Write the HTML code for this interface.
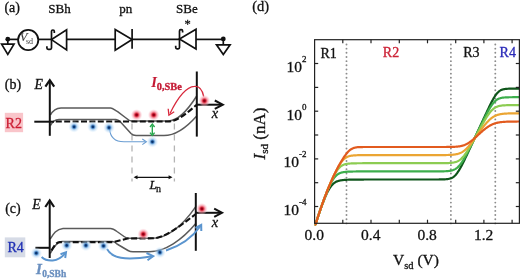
<!DOCTYPE html>
<html><head><meta charset="utf-8">
<style>
html,body{margin:0;padding:0;background:#fff;}
body{width:520px;height:279px;overflow:hidden;}
svg{display:block;}
text{font-family:"Liberation Serif","Times New Roman",serif;fill:#111;stroke:#111;stroke-width:0.3px;}
</style></head><body>
<svg width="520" height="279" viewBox="0 0 520 279">
<defs>
<radialGradient id="gr" cx="0.5" cy="0.5" r="0.5">
<stop offset="0" stop-color="#7a0010"/>
<stop offset="0.16" stop-color="#a00018"/>
<stop offset="0.32" stop-color="#dc2c40" stop-opacity="0.92"/>
<stop offset="0.52" stop-color="#f27888" stop-opacity="0.7"/>
<stop offset="0.76" stop-color="#f8b0bc" stop-opacity="0.42"/>
<stop offset="1" stop-color="#ffe0e4" stop-opacity="0"/>
</radialGradient>
<radialGradient id="gb" cx="0.5" cy="0.5" r="0.5">
<stop offset="0" stop-color="#082a5c"/>
<stop offset="0.15" stop-color="#0c3a78"/>
<stop offset="0.3" stop-color="#3a7cc0" stop-opacity="0.85"/>
<stop offset="0.5" stop-color="#90c0ec" stop-opacity="0.58"/>
<stop offset="0.76" stop-color="#c4e0f8" stop-opacity="0.36"/>
<stop offset="1" stop-color="#e8f4ff" stop-opacity="0"/>
</radialGradient>
</defs>

<!-- ============ panel (a) ============ -->
<g font-size="13">
<text x="4.4" y="12.2" font-size="14">(a)</text>
<text x="48.3" y="12.6">SBh</text>
<text x="119.2" y="12.7">pn</text>
<text x="176" y="12.7">SBe</text>
<text x="187.6" y="28.2" font-size="12.5" text-anchor="middle">*</text>
</g>
<g stroke="#111" stroke-width="1.7" fill="none">
<!-- wires -->
<line x1="7.8" y1="39.4" x2="18" y2="39.4"/>
<line x1="38.4" y1="39.4" x2="51.5" y2="39.4"/>
<line x1="66.6" y1="39.4" x2="115.2" y2="39.4"/>
<line x1="132.1" y1="39.4" x2="179.5" y2="39.4"/>
<line x1="196" y1="39.4" x2="223.3" y2="39.4"/>
<!-- left ground -->
<line x1="7.8" y1="39.4" x2="7.8" y2="44.2"/>
<path d="M1.6,44.2 L14,44.2 L7.8,54.4 Z" stroke-linejoin="miter"/>
<!-- right ground -->
<line x1="223.3" y1="39.4" x2="223.3" y2="44.8"/>
<path d="M216.5,44.8 L230.1,44.8 L223.3,54.6 Z"/>
<!-- source circle -->
<circle cx="28.2" cy="40" r="10.1" stroke-width="1.8"/>
<!-- SBh -->
<path d="M66.6,29.8 L66.6,49.9 L51.5,39.6 Z"/>
<path d="M54.3,33 L54.3,31.3 Q54.3,30 53,30 L52.8,30 Q51.5,30 51.5,31.3 L51.5,48 Q51.5,49.3 50.2,49.3 L48.2,49.3 Q46.9,49.3 46.9,48 L46.9,46.3"/>
<!-- pn -->
<path d="M115.2,29.5 L115.2,50.1 L132.1,39.5 Z"/>
<line x1="132.1" y1="29" x2="132.1" y2="48.8"/>
<!-- SBe -->
<path d="M196,29.2 L196,48.9 L179.5,39 Z"/>
<path d="M182.6,32.6 L182.6,30.9 Q182.6,29.6 181.3,29.6 L180.8,29.6 Q179.5,29.6 179.5,30.9 L179.5,47.5 Q179.5,48.8 178.2,48.8 L177,48.8 Q175.7,48.8 175.7,47.5 L175.7,45.8"/>
</g>
<circle cx="7.8" cy="39.2" r="2.4" fill="#111"/>
<circle cx="223.3" cy="38.9" r="2.4" fill="#111"/>
<text x="19.8" y="40.6" font-size="12.5" font-style="italic" style="fill:#3a3a3a;stroke:#3a3a3a;stroke-width:0.15px">V</text>
<text x="25.9" y="43.6" font-size="8" style="fill:#444;stroke:none">sd</text>

<!-- ============ panel (b) ============ -->
<text x="4.8" y="88.9" font-size="14">(b)</text>
<text x="34.4" y="88.6" font-size="13.8" font-style="italic">E</text>
<rect x="4.8" y="112.8" width="18.3" height="19.4" fill="#f9c5ca"/>
<text x="5.6" y="128.2" font-size="14" style="fill:#cc1e34;stroke:#cc1e34">R2</text>

<!-- gray dashed verticals & Ln -->
<g stroke="#b4b4b4" stroke-width="1.3" stroke-dasharray="6,5" fill="none">
<line x1="132" y1="123.4" x2="132" y2="181.5"/>
<line x1="174.4" y1="123.4" x2="174.4" y2="181.5"/>
</g>
<line x1="135" y1="177.3" x2="171" y2="177.3" stroke="#111" stroke-width="1.3"/>
<path d="M133.6,177.3 L137.5,175.3 L137.5,179.3 Z M172.5,177.3 L168.6,175.3 L168.6,179.3 Z" fill="#111"/>
<text x="149.6" y="188.8" font-size="13" font-style="italic">L</text>
<text x="156" y="192" font-size="10">n</text>

<!-- bands -->
<g stroke="#5a5a5a" stroke-width="1.5" fill="none" stroke-linejoin="round">
<path d="M50.5,115 C52.5,111 55.5,108 61,107.9 L110.5,107.9 C113,108 114.5,110 117.6,111.6 L126,118 C128,120 129,121 132,121 L168,121 C176,121 186,113 196.7,96"/>
<path d="M50.5,125.5 C52,122 54.5,119.5 59,119.4 L116,119.5 C117.5,119.5 119,120.5 120.5,122 L131,133.5 C132,134.5 133.5,135.5 136,135.6 L164,135.6 C175,135.6 187,127 196.7,116"/>
</g>
<path d="M55.8,121.5 L168,121.5 C178,121.5 188,112 196.7,104.8" stroke="#111" stroke-width="2.1" fill="none" stroke-dasharray="6,2.4"/>
<!-- axes -->
<g stroke="#111" stroke-width="2" fill="none">
<line x1="49.8" y1="81" x2="49.8" y2="135.8"/>
<path d="M45.4,86.6 L49.8,80.2 L54.2,86.6" stroke-width="2.2"/>
<line x1="34.3" y1="121.7" x2="54" y2="121.7"/>
<line x1="196.8" y1="71.5" x2="196.8" y2="136.6"/>
<line x1="196.8" y1="104.7" x2="221.5" y2="104.7"/>
<path d="M214.8,100.5 L222.8,104.7 L214.8,108.9"/>
</g>
<text x="211.8" y="118.4" font-size="14.5" font-style="italic">x</text>
<!-- green double arrow -->
<g stroke="#27a84e" stroke-width="1.4" fill="none">
<line x1="152.3" y1="125.5" x2="152.3" y2="134"/>
<path d="M150,127 L152.3,124.2 L154.6,127 M150,132.6 L152.3,135.4 L154.6,132.6"/>
</g>
<!-- blue arrow (b) -->
<path d="M109.6,128.5 C110,136 113,141.8 124,141.8 L145.5,141.8" stroke="#6a9dd2" stroke-width="1.1" fill="none"/>
<path d="M142.3,139 L146.4,141.8 L142.3,144.6" stroke="#6a9dd2" stroke-width="1.1" fill="none"/>
<!-- red arc -->
<path d="M203.7,96.5 C202,88 198,86 194.5,86.4 C186,87 178,97 170,113.5" stroke="#d8283c" stroke-width="1.3" fill="none"/>
<path d="M168.2,108.8 L168.9,115.2 L174.2,111.8" stroke="#d8283c" stroke-width="1.3" fill="none"/>
<text x="151.3" y="86.8" font-size="14.5" font-weight="bold" font-style="italic" style="fill:#c41a34;stroke:#c41a34;stroke-width:0.1px">I</text>
<text x="156.8" y="89.8" font-size="10.4" font-weight="bold" style="fill:#c41a34;stroke:#c41a34">0,SBe</text>
<!-- dots (b) -->
<circle cx="136.6" cy="114.9" r="6" fill="url(#gr)"/>
<circle cx="153.7" cy="114.9" r="6" fill="url(#gr)"/>
<circle cx="204.4" cy="100.8" r="6" fill="url(#gr)"/>
<circle cx="74.1" cy="126.8" r="6" fill="url(#gb)"/>
<circle cx="92.9" cy="126.8" r="6" fill="url(#gb)"/>
<circle cx="109" cy="127.6" r="6" fill="url(#gb)"/>
<circle cx="152.4" cy="141.8" r="6" fill="url(#gb)"/>

<!-- ============ panel (c) ============ -->
<text x="5.2" y="212.6" font-size="14">(c)</text>
<text x="32.2" y="208.6" font-size="13.8" font-style="italic">E</text>
<rect x="4.8" y="237.4" width="20.5" height="19.9" fill="#d6dbe6"/>
<text x="7.4" y="252.4" font-size="14" style="fill:#1f2fb4;stroke:#1f2fb4">R4</text>
<g stroke="#5a5a5a" stroke-width="1.5" fill="none" stroke-linejoin="round">
<path d="M50.3,239 C53,234.5 56,229 63,228.4 L110.5,228.5 C113,228.5 115,230 117,231.5 L124,236.5 C125.5,237.6 127,238.3 129,238.3 L152,238.3 C168,238.3 183,225 195.8,206.6"/>
<path d="M50.3,253.5 C53,248 56.5,241.6 62,241.4 L112.5,241.5 C114,241.5 115.5,242.5 117,244 L128,250.5 C129.5,251.4 131,251.8 133,251.8 L149,251.8 C165,251.8 182,240 195.8,223.5"/>
</g>
<path d="M51.5,250.5 C54,246 56,242.3 60,242.1 L113,242.1 L127.5,238.5 L153,238.3 C165,238 180,226 195.8,214" stroke="#111" stroke-width="2.1" fill="none" stroke-dasharray="6,2.4"/>
<g stroke="#111" stroke-width="2" fill="none">
<line x1="49.7" y1="201" x2="49.7" y2="258"/>
<path d="M45.3,207 L49.7,200.4 L54.1,207" stroke-width="2.2"/>
<line x1="35.4" y1="247.8" x2="50" y2="247.8"/>
<line x1="195.8" y1="193" x2="195.8" y2="250.8"/>
<line x1="195.8" y1="212.8" x2="221" y2="212.8"/>
<path d="M214.2,208.7 L222,212.8 L214.2,216.9"/>
</g>
<text x="211.8" y="227" font-size="14.5" font-style="italic">x</text>
<!-- blue arrows (c) -->
<g stroke="#5b95cf" stroke-width="2" fill="none">
<path d="M41.6,257 C47,262 58,262.5 65,253.5"/>
<path d="M60.5,254.2 L66,252.3 L65.2,258"/>
<path d="M107,249 C112,258 124,261 152,256.3"/>
<path d="M146.5,253 L153.2,256.1 L147.5,260.2"/>
<path d="M166,250.5 C180,246 192,238 200.5,226"/>
<path d="M195.5,228 L201.2,225 L201.3,231"/>
</g>
<text x="36" y="273.8" font-size="15" font-weight="bold" font-style="italic" style="fill:#6a8fbf;stroke:#6a8fbf">I</text>
<text x="42.2" y="277" font-size="9.5" font-weight="bold" style="fill:#6a8fbf;stroke:#6a8fbf">0,SBh</text>
<!-- dots (c) -->
<circle cx="143.3" cy="234.2" r="6" fill="url(#gr)"/>
<circle cx="201.9" cy="208.8" r="6" fill="url(#gr)"/>
<circle cx="36.3" cy="253.1" r="6" fill="url(#gb)"/>
<circle cx="66.7" cy="245.4" r="6" fill="url(#gb)"/>
<circle cx="85.9" cy="245.4" r="6" fill="url(#gb)"/>
<circle cx="103.5" cy="245.9" r="6" fill="url(#gb)"/>
<circle cx="159.9" cy="252.4" r="6" fill="url(#gb)"/>

<!-- ============ panel (d) ============ -->
<text x="252.2" y="10.9" font-size="14.5">(d)</text>
<g stroke="#8c8c8c" stroke-width="1.9" stroke-dasharray="0.01,4.15" stroke-linecap="round" fill="none">
<line x1="346.5" y1="44.5" x2="346.5" y2="227"/>
<line x1="450.9" y1="44.5" x2="450.9" y2="227"/>
<line x1="495.3" y1="44.5" x2="495.3" y2="227"/>
</g>
<path d="M314.60,224.50 L315.10,224.50 L315.60,224.29 L316.10,222.70 L316.60,221.12 L317.10,219.55 L317.60,218.01 L318.10,216.48 L318.60,214.97 L319.10,213.48 L319.60,212.01 L320.10,210.55 L320.60,209.12 L321.10,207.70 L321.60,206.31 L322.10,204.94 L322.60,203.60 L323.10,202.28 L323.60,200.99 L324.10,199.73 L324.60,198.50 L325.10,197.30 L325.60,196.13 L326.10,195.00 L326.60,193.91 L327.10,192.86 L327.60,191.86 L328.10,190.89 L328.60,189.98 L329.10,189.11 L329.60,188.29 L330.10,187.52 L330.60,186.80 L331.10,186.13 L331.60,185.50 L332.10,184.93 L332.60,184.40 L333.10,183.92 L333.60,183.48 L334.10,183.07 L334.60,182.71 L335.10,182.38 L335.60,182.09 L336.10,181.82 L336.60,181.58 L337.10,181.37 L337.60,181.18 L338.10,181.01 L338.60,180.86 L339.10,180.72 L339.60,180.60 L340.10,180.49 L340.60,180.39 L341.10,180.31 L341.60,180.23 L342.10,180.16 L342.60,180.10 L343.10,180.04 L343.60,180.00 L344.10,179.95 L344.60,179.91 L345.10,179.88 L345.60,179.84 L346.10,179.82 L346.60,179.79 L347.10,179.77 L347.60,179.75 L348.10,179.73 L348.60,179.71 L349.10,179.70 L349.60,179.68 L350.10,179.67 L350.60,179.66 L351.10,179.65 L351.60,179.64 L352.10,179.63 L352.60,179.62 L353.10,179.61 L353.60,179.60 L354.10,179.60 L354.60,179.59 L355.10,179.58 L355.60,179.58 L356.10,179.57 L356.60,179.57 L357.10,179.56 L357.60,179.56 L358.10,179.56 L358.60,179.55 L359.10,179.55 L359.60,179.55 L360.10,179.54 L360.60,179.54 L361.10,179.54 L361.60,179.53 L362.10,179.53 L362.60,179.53 L363.10,179.53 L363.60,179.53 L364.10,179.52 L364.60,179.52 L365.10,179.52 L365.60,179.52 L366.10,179.52 L366.60,179.52 L367.10,179.52 L367.60,179.52 L368.10,179.51 L368.60,179.51 L369.10,179.51 L369.60,179.51 L370.10,179.51 L370.60,179.51 L371.10,179.51 L371.60,179.51 L372.10,179.51 L372.60,179.51 L373.10,179.51 L373.60,179.51 L374.10,179.51 L374.60,179.51 L375.10,179.51 L375.60,179.50 L376.10,179.50 L376.60,179.50 L377.10,179.50 L377.60,179.50 L378.10,179.50 L378.60,179.50 L379.10,179.50 L379.60,179.50 L380.10,179.50 L380.60,179.50 L381.10,179.50 L381.60,179.50 L382.10,179.50 L382.60,179.50 L383.10,179.50 L383.60,179.50 L384.10,179.50 L384.60,179.50 L385.10,179.50 L385.60,179.50 L386.10,179.50 L386.60,179.50 L387.10,179.50 L387.60,179.50 L388.10,179.50 L388.60,179.50 L389.10,179.50 L389.60,179.50 L390.10,179.50 L390.60,179.50 L391.10,179.50 L391.60,179.50 L392.10,179.50 L392.60,179.50 L393.10,179.50 L393.60,179.50 L394.10,179.50 L394.60,179.50 L395.10,179.50 L395.60,179.50 L396.10,179.50 L396.60,179.50 L397.10,179.50 L397.60,179.50 L398.10,179.50 L398.60,179.50 L399.10,179.50 L399.60,179.50 L400.10,179.50 L400.60,179.50 L401.10,179.50 L401.60,179.50 L402.10,179.50 L402.60,179.50 L403.10,179.50 L403.60,179.50 L404.10,179.50 L404.60,179.50 L405.10,179.50 L405.60,179.50 L406.10,179.50 L406.60,179.50 L407.10,179.50 L407.60,179.50 L408.10,179.50 L408.60,179.50 L409.10,179.50 L409.60,179.50 L410.10,179.50 L410.60,179.50 L411.10,179.50 L411.60,179.50 L412.10,179.50 L412.60,179.50 L413.10,179.50 L413.60,179.50 L414.10,179.50 L414.60,179.50 L415.10,179.50 L415.60,179.50 L416.10,179.50 L416.60,179.50 L417.10,179.50 L417.60,179.50 L418.10,179.50 L418.60,179.50 L419.10,179.50 L419.60,179.50 L420.10,179.50 L420.60,179.50 L421.10,179.50 L421.60,179.50 L422.10,179.50 L422.60,179.50 L423.10,179.50 L423.60,179.50 L424.10,179.50 L424.60,179.50 L425.10,179.50 L425.60,179.50 L426.10,179.50 L426.60,179.50 L427.10,179.50 L427.60,179.50 L428.10,179.50 L428.60,179.50 L429.10,179.50 L429.60,179.50 L430.10,179.50 L430.60,179.50 L431.10,179.50 L431.60,179.50 L432.10,179.50 L432.60,179.50 L433.10,179.50 L433.60,179.50 L434.10,179.49 L434.60,179.49 L435.10,179.49 L435.60,179.49 L436.10,179.49 L436.60,179.49 L437.10,179.49 L437.60,179.48 L438.10,179.48 L438.60,179.48 L439.10,179.47 L439.60,179.47 L440.10,179.46 L440.60,179.46 L441.10,179.45 L441.60,179.44 L442.10,179.43 L442.60,179.42 L443.10,179.40 L443.60,179.38 L444.10,179.36 L444.60,179.34 L445.10,179.31 L445.60,179.27 L446.10,179.23 L446.60,179.18 L447.10,179.13 L447.60,179.06 L448.10,178.99 L448.60,178.90 L449.10,178.79 L449.60,178.67 L450.10,178.53 L450.60,178.37 L451.10,178.19 L451.60,177.98 L452.10,177.74 L452.60,177.46 L453.10,177.15 L453.60,176.80 L454.10,176.41 L454.60,175.98 L455.10,175.51 L455.60,174.99 L456.10,174.42 L456.60,173.81 L457.10,173.16 L457.60,172.46 L458.10,171.73 L458.60,170.95 L459.10,170.14 L459.60,169.30 L460.10,168.42 L460.60,167.52 L461.10,166.60 L461.60,165.65 L462.10,164.69 L462.60,163.71 L463.10,162.71 L463.60,161.70 L464.10,160.68 L464.60,159.65 L465.10,158.62 L465.60,157.57 L466.10,156.52 L466.60,155.47 L467.10,154.41 L467.60,153.34 L468.10,152.28 L468.60,151.21 L469.10,150.13 L469.60,149.06 L470.10,147.98 L470.60,146.91 L471.10,145.83 L471.60,144.75 L472.10,143.67 L472.60,142.59 L473.10,141.51 L473.60,140.43 L474.10,139.34 L474.60,138.26 L475.10,137.18 L475.60,136.09 L476.10,135.01 L476.60,133.93 L477.10,132.84 L477.60,131.76 L478.10,130.68 L478.60,129.59 L479.10,128.51 L479.60,127.43 L480.10,126.35 L480.60,125.26 L481.10,124.18 L481.60,123.10 L482.10,122.02 L482.60,120.94 L483.10,119.86 L483.60,118.78 L484.10,117.71 L484.60,116.63 L485.10,115.56 L485.60,114.49 L486.10,113.42 L486.60,112.35 L487.10,111.29 L487.60,110.24 L488.10,109.18 L488.60,108.14 L489.10,107.10 L489.60,106.07 L490.10,105.05 L490.60,104.05 L491.10,103.06 L491.60,102.08 L492.10,101.12 L492.60,100.19 L493.10,99.28 L493.60,98.39 L494.10,97.54 L494.60,96.72 L495.10,95.94 L495.60,95.20 L496.10,94.50 L496.60,93.85 L497.10,93.25 L497.60,92.69 L498.10,92.19 L498.60,91.73 L499.10,91.31 L499.60,90.94 L500.10,90.62 L500.60,90.33 L501.10,90.08 L501.60,89.86 L502.10,89.67 L502.60,89.51 L503.10,89.37 L503.60,89.25 L504.10,89.15 L504.60,89.06 L505.10,88.99 L505.60,88.93 L506.10,88.87 L506.60,88.83 L507.10,88.79 L507.60,88.76 L508.10,88.74 L508.60,88.71 L509.10,88.70 L509.60,88.68 L510.10,88.67 L510.60,88.66 L511.10,88.65 L511.60,88.64 L512.10,88.63 L512.60,88.63 L513.10,88.62 L513.60,88.62 L514.10,88.62 L514.60,88.61 L515.10,88.61 L515.60,88.61 L516.10,88.61 L516.60,88.61 L517.10,88.61 L517.60,88.60 L518.10,88.60 L518.60,88.60 L519.10,88.60 L519.60,88.60 L520.10,88.60" stroke="#0f561b" stroke-width="2.2" fill="none" stroke-linejoin="round"/>
<path d="M314.60,224.50 L315.10,224.50 L315.60,224.26 L316.10,222.66 L316.60,221.08 L317.10,219.51 L317.60,217.95 L318.10,216.41 L318.60,214.89 L319.10,213.38 L319.60,211.88 L320.10,210.40 L320.60,208.94 L321.10,207.50 L321.60,206.06 L322.10,204.65 L322.60,203.25 L323.10,201.87 L323.60,200.51 L324.10,199.17 L324.60,197.84 L325.10,196.53 L325.60,195.25 L326.10,193.98 L326.60,192.74 L327.10,191.52 L327.60,190.32 L328.10,189.15 L328.60,188.01 L329.10,186.90 L329.60,185.82 L330.10,184.78 L330.60,183.77 L331.10,182.80 L331.60,181.88 L332.10,180.99 L332.60,180.15 L333.10,179.36 L333.60,178.62 L334.10,177.92 L334.60,177.28 L335.10,176.68 L335.60,176.13 L336.10,175.63 L336.60,175.18 L337.10,174.77 L337.60,174.39 L338.10,174.06 L338.60,173.76 L339.10,173.50 L339.60,173.26 L340.10,173.05 L340.60,172.87 L341.10,172.70 L341.60,172.56 L342.10,172.43 L342.60,172.32 L343.10,172.22 L343.60,172.13 L344.10,172.05 L344.60,171.98 L345.10,171.92 L345.60,171.87 L346.10,171.82 L346.60,171.78 L347.10,171.75 L347.60,171.71 L348.10,171.68 L348.60,171.66 L349.10,171.64 L349.60,171.62 L350.10,171.60 L350.60,171.58 L351.10,171.57 L351.60,171.55 L352.10,171.54 L352.60,171.53 L353.10,171.52 L353.60,171.51 L354.10,171.50 L354.60,171.49 L355.10,171.48 L355.60,171.48 L356.10,171.47 L356.60,171.47 L357.10,171.46 L357.60,171.46 L358.10,171.45 L358.60,171.45 L359.10,171.44 L359.60,171.44 L360.10,171.44 L360.60,171.43 L361.10,171.43 L361.60,171.43 L362.10,171.43 L362.60,171.42 L363.10,171.42 L363.60,171.42 L364.10,171.42 L364.60,171.42 L365.10,171.42 L365.60,171.41 L366.10,171.41 L366.60,171.41 L367.10,171.41 L367.60,171.41 L368.10,171.41 L368.60,171.41 L369.10,171.41 L369.60,171.41 L370.10,171.41 L370.60,171.41 L371.10,171.41 L371.60,171.41 L372.10,171.40 L372.60,171.40 L373.10,171.40 L373.60,171.40 L374.10,171.40 L374.60,171.40 L375.10,171.40 L375.60,171.40 L376.10,171.40 L376.60,171.40 L377.10,171.40 L377.60,171.40 L378.10,171.40 L378.60,171.40 L379.10,171.40 L379.60,171.40 L380.10,171.40 L380.60,171.40 L381.10,171.40 L381.60,171.40 L382.10,171.40 L382.60,171.40 L383.10,171.40 L383.60,171.40 L384.10,171.40 L384.60,171.40 L385.10,171.40 L385.60,171.40 L386.10,171.40 L386.60,171.40 L387.10,171.40 L387.60,171.40 L388.10,171.40 L388.60,171.40 L389.10,171.40 L389.60,171.40 L390.10,171.40 L390.60,171.40 L391.10,171.40 L391.60,171.40 L392.10,171.40 L392.60,171.40 L393.10,171.40 L393.60,171.40 L394.10,171.40 L394.60,171.40 L395.10,171.40 L395.60,171.40 L396.10,171.40 L396.60,171.40 L397.10,171.40 L397.60,171.40 L398.10,171.40 L398.60,171.40 L399.10,171.40 L399.60,171.40 L400.10,171.40 L400.60,171.40 L401.10,171.40 L401.60,171.40 L402.10,171.40 L402.60,171.40 L403.10,171.40 L403.60,171.40 L404.10,171.40 L404.60,171.40 L405.10,171.40 L405.60,171.40 L406.10,171.40 L406.60,171.40 L407.10,171.40 L407.60,171.40 L408.10,171.40 L408.60,171.40 L409.10,171.40 L409.60,171.40 L410.10,171.40 L410.60,171.40 L411.10,171.40 L411.60,171.40 L412.10,171.40 L412.60,171.40 L413.10,171.40 L413.60,171.40 L414.10,171.40 L414.60,171.40 L415.10,171.40 L415.60,171.40 L416.10,171.40 L416.60,171.40 L417.10,171.40 L417.60,171.40 L418.10,171.40 L418.60,171.40 L419.10,171.40 L419.60,171.40 L420.10,171.40 L420.60,171.40 L421.10,171.40 L421.60,171.40 L422.10,171.40 L422.60,171.40 L423.10,171.40 L423.60,171.40 L424.10,171.40 L424.60,171.40 L425.10,171.40 L425.60,171.40 L426.10,171.40 L426.60,171.40 L427.10,171.40 L427.60,171.40 L428.10,171.40 L428.60,171.40 L429.10,171.40 L429.60,171.40 L430.10,171.40 L430.60,171.40 L431.10,171.40 L431.60,171.40 L432.10,171.40 L432.60,171.40 L433.10,171.40 L433.60,171.39 L434.10,171.39 L434.60,171.39 L435.10,171.39 L435.60,171.39 L436.10,171.39 L436.60,171.39 L437.10,171.38 L437.60,171.38 L438.10,171.38 L438.60,171.38 L439.10,171.37 L439.60,171.37 L440.10,171.36 L440.60,171.36 L441.10,171.35 L441.60,171.34 L442.10,171.34 L442.60,171.33 L443.10,171.31 L443.60,171.30 L444.10,171.29 L444.60,171.27 L445.10,171.25 L445.60,171.23 L446.10,171.20 L446.60,171.17 L447.10,171.13 L447.60,171.09 L448.10,171.05 L448.60,171.00 L449.10,170.94 L449.60,170.87 L450.10,170.79 L450.60,170.70 L451.10,170.60 L451.60,170.48 L452.10,170.35 L452.60,170.20 L453.10,170.03 L453.60,169.84 L454.10,169.63 L454.60,169.39 L455.10,169.13 L455.60,168.84 L456.10,168.51 L456.60,168.16 L457.10,167.77 L457.60,167.34 L458.10,166.88 L458.60,166.38 L459.10,165.84 L459.60,165.27 L460.10,164.66 L460.60,164.02 L461.10,163.34 L461.60,162.63 L462.10,161.89 L462.60,161.11 L463.10,160.32 L463.60,159.49 L464.10,158.65 L464.60,157.78 L465.10,156.89 L465.60,155.99 L466.10,155.07 L466.60,154.14 L467.10,153.19 L467.60,152.24 L468.10,151.27 L468.60,150.30 L469.10,149.32 L469.60,148.33 L470.10,147.33 L470.60,146.33 L471.10,145.33 L471.60,144.32 L472.10,143.31 L472.60,142.30 L473.10,141.28 L473.60,140.26 L474.10,139.24 L474.60,138.22 L475.10,137.20 L475.60,136.17 L476.10,135.15 L476.60,134.12 L477.10,133.10 L477.60,132.07 L478.10,131.05 L478.60,130.02 L479.10,129.00 L479.60,127.98 L480.10,126.95 L480.60,125.93 L481.10,124.91 L481.60,123.90 L482.10,122.88 L482.60,121.87 L483.10,120.87 L483.60,119.86 L484.10,118.87 L484.60,117.87 L485.10,116.89 L485.60,115.91 L486.10,114.94 L486.60,113.98 L487.10,113.04 L487.60,112.11 L488.10,111.19 L488.60,110.29 L489.10,109.41 L489.60,108.55 L490.10,107.71 L490.60,106.90 L491.10,106.12 L491.60,105.37 L492.10,104.65 L492.60,103.97 L493.10,103.33 L493.60,102.72 L494.10,102.16 L494.60,101.63 L495.10,101.15 L495.60,100.70 L496.10,100.30 L496.60,99.93 L497.10,99.60 L497.60,99.30 L498.10,99.03 L498.60,98.80 L499.10,98.59 L499.60,98.41 L500.10,98.24 L500.60,98.10 L501.10,97.98 L501.60,97.87 L502.10,97.78 L502.60,97.70 L503.10,97.63 L503.60,97.57 L504.10,97.52 L504.60,97.47 L505.10,97.43 L505.60,97.40 L506.10,97.37 L506.60,97.35 L507.10,97.33 L507.60,97.31 L508.10,97.29 L508.60,97.28 L509.10,97.27 L509.60,97.26 L510.10,97.25 L510.60,97.24 L511.10,97.24 L511.60,97.23 L512.10,97.23 L512.60,97.22 L513.10,97.22 L513.60,97.22 L514.10,97.21 L514.60,97.21 L515.10,97.21 L515.60,97.21 L516.10,97.21 L516.60,97.21 L517.10,97.21 L517.60,97.20 L518.10,97.20 L518.60,97.20 L519.10,97.20 L519.60,97.20 L520.10,97.20" stroke="#3dae4c" stroke-width="2.2" fill="none" stroke-linejoin="round"/>
<path d="M314.60,224.50 L315.10,224.50 L315.60,224.26 L316.10,222.66 L316.60,221.07 L317.10,219.50 L317.60,217.95 L318.10,216.41 L318.60,214.88 L319.10,213.37 L319.60,211.87 L320.10,210.39 L320.60,208.92 L321.10,207.47 L321.60,206.04 L322.10,204.61 L322.60,203.21 L323.10,201.82 L323.60,200.44 L324.10,199.08 L324.60,197.74 L325.10,196.41 L325.60,195.09 L326.10,193.80 L326.60,192.51 L327.10,191.25 L327.60,190.00 L328.10,188.76 L328.60,187.55 L329.10,186.35 L329.60,185.16 L330.10,184.00 L330.60,182.86 L331.10,181.74 L331.60,180.63 L332.10,179.56 L332.60,178.50 L333.10,177.47 L333.60,176.47 L334.10,175.50 L334.60,174.56 L335.10,173.65 L335.60,172.78 L336.10,171.95 L336.60,171.16 L337.10,170.41 L337.60,169.71 L338.10,169.05 L338.60,168.44 L339.10,167.88 L339.60,167.37 L340.10,166.90 L340.60,166.47 L341.10,166.09 L341.60,165.75 L342.10,165.44 L342.60,165.17 L343.10,164.94 L343.60,164.73 L344.10,164.54 L344.60,164.38 L345.10,164.24 L345.60,164.12 L346.10,164.01 L346.60,163.91 L347.10,163.83 L347.60,163.76 L348.10,163.70 L348.60,163.64 L349.10,163.60 L349.60,163.55 L350.10,163.52 L350.60,163.49 L351.10,163.46 L351.60,163.43 L352.10,163.41 L352.60,163.39 L353.10,163.37 L353.60,163.35 L354.10,163.34 L354.60,163.32 L355.10,163.31 L355.60,163.30 L356.10,163.29 L356.60,163.28 L357.10,163.27 L357.60,163.27 L358.10,163.26 L358.60,163.25 L359.10,163.25 L359.60,163.24 L360.10,163.24 L360.60,163.23 L361.10,163.23 L361.60,163.23 L362.10,163.23 L362.60,163.22 L363.10,163.22 L363.60,163.22 L364.10,163.22 L364.60,163.21 L365.10,163.21 L365.60,163.21 L366.10,163.21 L366.60,163.21 L367.10,163.21 L367.60,163.21 L368.10,163.21 L368.60,163.21 L369.10,163.21 L369.60,163.21 L370.10,163.20 L370.60,163.20 L371.10,163.20 L371.60,163.20 L372.10,163.20 L372.60,163.20 L373.10,163.20 L373.60,163.20 L374.10,163.20 L374.60,163.20 L375.10,163.20 L375.60,163.20 L376.10,163.20 L376.60,163.20 L377.10,163.20 L377.60,163.20 L378.10,163.20 L378.60,163.20 L379.10,163.20 L379.60,163.20 L380.10,163.20 L380.60,163.20 L381.10,163.20 L381.60,163.20 L382.10,163.20 L382.60,163.20 L383.10,163.20 L383.60,163.20 L384.10,163.20 L384.60,163.20 L385.10,163.20 L385.60,163.20 L386.10,163.20 L386.60,163.20 L387.10,163.20 L387.60,163.20 L388.10,163.20 L388.60,163.20 L389.10,163.20 L389.60,163.20 L390.10,163.20 L390.60,163.20 L391.10,163.20 L391.60,163.20 L392.10,163.20 L392.60,163.20 L393.10,163.20 L393.60,163.20 L394.10,163.20 L394.60,163.20 L395.10,163.20 L395.60,163.20 L396.10,163.20 L396.60,163.20 L397.10,163.20 L397.60,163.20 L398.10,163.20 L398.60,163.20 L399.10,163.20 L399.60,163.20 L400.10,163.20 L400.60,163.20 L401.10,163.20 L401.60,163.20 L402.10,163.20 L402.60,163.20 L403.10,163.20 L403.60,163.20 L404.10,163.20 L404.60,163.20 L405.10,163.20 L405.60,163.20 L406.10,163.20 L406.60,163.20 L407.10,163.20 L407.60,163.20 L408.10,163.20 L408.60,163.20 L409.10,163.20 L409.60,163.20 L410.10,163.20 L410.60,163.20 L411.10,163.20 L411.60,163.20 L412.10,163.20 L412.60,163.20 L413.10,163.20 L413.60,163.20 L414.10,163.20 L414.60,163.20 L415.10,163.20 L415.60,163.20 L416.10,163.20 L416.60,163.20 L417.10,163.20 L417.60,163.20 L418.10,163.20 L418.60,163.20 L419.10,163.20 L419.60,163.20 L420.10,163.20 L420.60,163.20 L421.10,163.20 L421.60,163.20 L422.10,163.20 L422.60,163.20 L423.10,163.20 L423.60,163.20 L424.10,163.20 L424.60,163.20 L425.10,163.20 L425.60,163.20 L426.10,163.20 L426.60,163.20 L427.10,163.20 L427.60,163.20 L428.10,163.20 L428.60,163.20 L429.10,163.20 L429.60,163.20 L430.10,163.20 L430.60,163.20 L431.10,163.20 L431.60,163.20 L432.10,163.20 L432.60,163.20 L433.10,163.20 L433.60,163.20 L434.10,163.20 L434.60,163.20 L435.10,163.20 L435.60,163.20 L436.10,163.20 L436.60,163.19 L437.10,163.19 L437.60,163.19 L438.10,163.19 L438.60,163.19 L439.10,163.19 L439.60,163.19 L440.10,163.18 L440.60,163.18 L441.10,163.18 L441.60,163.18 L442.10,163.17 L442.60,163.17 L443.10,163.16 L443.60,163.16 L444.10,163.15 L444.60,163.15 L445.10,163.14 L445.60,163.13 L446.10,163.12 L446.60,163.10 L447.10,163.09 L447.60,163.07 L448.10,163.05 L448.60,163.03 L449.10,163.00 L449.60,162.97 L450.10,162.94 L450.60,162.90 L451.10,162.86 L451.60,162.80 L452.10,162.75 L452.60,162.68 L453.10,162.60 L453.60,162.52 L454.10,162.42 L454.60,162.30 L455.10,162.18 L455.60,162.03 L456.10,161.87 L456.60,161.69 L457.10,161.49 L457.60,161.26 L458.10,161.01 L458.60,160.73 L459.10,160.42 L459.60,160.08 L460.10,159.71 L460.60,159.31 L461.10,158.87 L461.60,158.40 L462.10,157.90 L462.60,157.37 L463.10,156.80 L463.60,156.21 L464.10,155.58 L464.60,154.92 L465.10,154.24 L465.60,153.53 L466.10,152.80 L466.60,152.05 L467.10,151.28 L467.60,150.49 L468.10,149.69 L468.60,148.87 L469.10,148.03 L469.60,147.19 L470.10,146.34 L470.60,145.47 L471.10,144.60 L471.60,143.72 L472.10,142.84 L472.60,141.95 L473.10,141.06 L473.60,140.16 L474.10,139.26 L474.60,138.36 L475.10,137.45 L475.60,136.54 L476.10,135.64 L476.60,134.73 L477.10,133.82 L477.60,132.91 L478.10,132.00 L478.60,131.10 L479.10,130.19 L479.60,129.29 L480.10,128.39 L480.60,127.49 L481.10,126.59 L481.60,125.70 L482.10,124.82 L482.60,123.94 L483.10,123.06 L483.60,122.20 L484.10,121.34 L484.60,120.50 L485.10,119.66 L485.60,118.84 L486.10,118.03 L486.60,117.23 L487.10,116.46 L487.60,115.70 L488.10,114.96 L488.60,114.25 L489.10,113.56 L489.60,112.90 L490.10,112.26 L490.60,111.66 L491.10,111.08 L491.60,110.54 L492.10,110.03 L492.60,109.55 L493.10,109.11 L493.60,108.70 L494.10,108.32 L494.60,107.97 L495.10,107.66 L495.60,107.37 L496.10,107.11 L496.60,106.87 L497.10,106.66 L497.60,106.48 L498.10,106.31 L498.60,106.16 L499.10,106.03 L499.60,105.91 L500.10,105.81 L500.60,105.72 L501.10,105.64 L501.60,105.57 L502.10,105.51 L502.60,105.46 L503.10,105.41 L503.60,105.37 L504.10,105.33 L504.60,105.30 L505.10,105.28 L505.60,105.25 L506.10,105.23 L506.60,105.22 L507.10,105.20 L507.60,105.19 L508.10,105.18 L508.60,105.17 L509.10,105.16 L509.60,105.15 L510.10,105.14 L510.60,105.14 L511.10,105.13 L511.60,105.13 L512.10,105.12 L512.60,105.12 L513.10,105.12 L513.60,105.12 L514.10,105.11 L514.60,105.11 L515.10,105.11 L515.60,105.11 L516.10,105.11 L516.60,105.11 L517.10,105.11 L517.60,105.11 L518.10,105.10 L518.60,105.10 L519.10,105.10 L519.60,105.10 L520.10,105.10" stroke="#8ccc52" stroke-width="2.2" fill="none" stroke-linejoin="round"/>
<path d="M314.60,224.50 L315.10,224.50 L315.60,224.26 L316.10,222.66 L316.60,221.07 L317.10,219.50 L317.60,217.95 L318.10,216.41 L318.60,214.88 L319.10,213.37 L319.60,211.87 L320.10,210.39 L320.60,208.92 L321.10,207.47 L321.60,206.03 L322.10,204.61 L322.60,203.21 L323.10,201.82 L323.60,200.44 L324.10,199.08 L324.60,197.73 L325.10,196.40 L325.60,195.08 L326.10,193.78 L326.60,192.50 L327.10,191.22 L327.60,189.97 L328.10,188.73 L328.60,187.50 L329.10,186.29 L329.60,185.09 L330.10,183.91 L330.60,182.75 L331.10,181.60 L331.60,180.46 L332.10,179.34 L332.60,178.24 L333.10,177.16 L333.60,176.08 L334.10,175.03 L334.60,173.99 L335.10,172.97 L335.60,171.97 L336.10,170.99 L336.60,170.03 L337.10,169.09 L337.60,168.17 L338.10,167.27 L338.60,166.40 L339.10,165.55 L339.60,164.73 L340.10,163.95 L340.60,163.19 L341.10,162.47 L341.60,161.79 L342.10,161.14 L342.60,160.54 L343.10,159.97 L343.60,159.45 L344.10,158.97 L344.60,158.54 L345.10,158.14 L345.60,157.78 L346.10,157.46 L346.60,157.18 L347.10,156.92 L347.60,156.70 L348.10,156.51 L348.60,156.34 L349.10,156.19 L349.60,156.06 L350.10,155.94 L350.60,155.84 L351.10,155.76 L351.60,155.68 L352.10,155.61 L352.60,155.55 L353.10,155.50 L353.60,155.45 L354.10,155.41 L354.60,155.37 L355.10,155.34 L355.60,155.31 L356.10,155.28 L356.60,155.26 L357.10,155.24 L357.60,155.22 L358.10,155.21 L358.60,155.20 L359.10,155.18 L359.60,155.17 L360.10,155.16 L360.60,155.16 L361.10,155.15 L361.60,155.14 L362.10,155.14 L362.60,155.13 L363.10,155.13 L363.60,155.13 L364.10,155.12 L364.60,155.12 L365.10,155.12 L365.60,155.12 L366.10,155.11 L366.60,155.11 L367.10,155.11 L367.60,155.11 L368.10,155.11 L368.60,155.11 L369.10,155.11 L369.60,155.11 L370.10,155.10 L370.60,155.10 L371.10,155.10 L371.60,155.10 L372.10,155.10 L372.60,155.10 L373.10,155.10 L373.60,155.10 L374.10,155.10 L374.60,155.10 L375.10,155.10 L375.60,155.10 L376.10,155.10 L376.60,155.10 L377.10,155.10 L377.60,155.10 L378.10,155.10 L378.60,155.10 L379.10,155.10 L379.60,155.10 L380.10,155.10 L380.60,155.10 L381.10,155.10 L381.60,155.10 L382.10,155.10 L382.60,155.10 L383.10,155.10 L383.60,155.10 L384.10,155.10 L384.60,155.10 L385.10,155.10 L385.60,155.10 L386.10,155.10 L386.60,155.10 L387.10,155.10 L387.60,155.10 L388.10,155.10 L388.60,155.10 L389.10,155.10 L389.60,155.10 L390.10,155.10 L390.60,155.10 L391.10,155.10 L391.60,155.10 L392.10,155.10 L392.60,155.10 L393.10,155.10 L393.60,155.10 L394.10,155.10 L394.60,155.10 L395.10,155.10 L395.60,155.10 L396.10,155.10 L396.60,155.10 L397.10,155.10 L397.60,155.10 L398.10,155.10 L398.60,155.10 L399.10,155.10 L399.60,155.10 L400.10,155.10 L400.60,155.10 L401.10,155.10 L401.60,155.10 L402.10,155.10 L402.60,155.10 L403.10,155.10 L403.60,155.10 L404.10,155.10 L404.60,155.10 L405.10,155.10 L405.60,155.10 L406.10,155.10 L406.60,155.10 L407.10,155.10 L407.60,155.10 L408.10,155.10 L408.60,155.10 L409.10,155.10 L409.60,155.10 L410.10,155.10 L410.60,155.10 L411.10,155.10 L411.60,155.10 L412.10,155.10 L412.60,155.10 L413.10,155.10 L413.60,155.10 L414.10,155.10 L414.60,155.10 L415.10,155.10 L415.60,155.10 L416.10,155.10 L416.60,155.10 L417.10,155.10 L417.60,155.10 L418.10,155.10 L418.60,155.10 L419.10,155.10 L419.60,155.10 L420.10,155.10 L420.60,155.10 L421.10,155.10 L421.60,155.10 L422.10,155.10 L422.60,155.10 L423.10,155.10 L423.60,155.10 L424.10,155.10 L424.60,155.10 L425.10,155.10 L425.60,155.10 L426.10,155.10 L426.60,155.10 L427.10,155.10 L427.60,155.10 L428.10,155.10 L428.60,155.10 L429.10,155.10 L429.60,155.10 L430.10,155.10 L430.60,155.10 L431.10,155.10 L431.60,155.10 L432.10,155.10 L432.60,155.10 L433.10,155.10 L433.60,155.10 L434.10,155.10 L434.60,155.10 L435.10,155.10 L435.60,155.09 L436.10,155.09 L436.60,155.09 L437.10,155.09 L437.60,155.09 L438.10,155.09 L438.60,155.09 L439.10,155.09 L439.60,155.09 L440.10,155.08 L440.60,155.08 L441.10,155.08 L441.60,155.08 L442.10,155.07 L442.60,155.07 L443.10,155.07 L443.60,155.06 L444.10,155.06 L444.60,155.05 L445.10,155.04 L445.60,155.04 L446.10,155.03 L446.60,155.02 L447.10,155.01 L447.60,155.00 L448.10,154.98 L448.60,154.97 L449.10,154.95 L449.60,154.93 L450.10,154.91 L450.60,154.88 L451.10,154.86 L451.60,154.82 L452.10,154.79 L452.60,154.75 L453.10,154.70 L453.60,154.65 L454.10,154.59 L454.60,154.53 L455.10,154.46 L455.60,154.38 L456.10,154.29 L456.60,154.18 L457.10,154.07 L457.60,153.95 L458.10,153.81 L458.60,153.66 L459.10,153.49 L459.60,153.31 L460.10,153.10 L460.60,152.88 L461.10,152.64 L461.60,152.38 L462.10,152.09 L462.60,151.78 L463.10,151.45 L463.60,151.10 L464.10,150.73 L464.60,150.33 L465.10,149.91 L465.60,149.46 L466.10,148.99 L466.60,148.51 L467.10,148.00 L467.60,147.47 L468.10,146.92 L468.60,146.36 L469.10,145.78 L469.60,145.19 L470.10,144.58 L470.60,143.96 L471.10,143.32 L471.60,142.68 L472.10,142.03 L472.60,141.37 L473.10,140.70 L473.60,140.02 L474.10,139.34 L474.60,138.66 L475.10,137.97 L475.60,137.28 L476.10,136.59 L476.60,135.89 L477.10,135.20 L477.60,134.50 L478.10,133.81 L478.60,133.11 L479.10,132.42 L479.60,131.73 L480.10,131.05 L480.60,130.36 L481.10,129.69 L481.60,129.02 L482.10,128.35 L482.60,127.69 L483.10,127.04 L483.60,126.40 L484.10,125.76 L484.60,125.14 L485.10,124.53 L485.60,123.93 L486.10,123.35 L486.60,122.78 L487.10,122.22 L487.60,121.68 L488.10,121.16 L488.60,120.65 L489.10,120.16 L489.60,119.70 L490.10,119.25 L490.60,118.82 L491.10,118.41 L491.60,118.02 L492.10,117.66 L492.60,117.31 L493.10,116.99 L493.60,116.68 L494.10,116.39 L494.60,116.13 L495.10,115.88 L495.60,115.65 L496.10,115.44 L496.60,115.24 L497.10,115.06 L497.60,114.90 L498.10,114.75 L498.60,114.61 L499.10,114.48 L499.60,114.37 L500.10,114.26 L500.60,114.17 L501.10,114.08 L501.60,114.00 L502.10,113.93 L502.60,113.87 L503.10,113.81 L503.60,113.76 L504.10,113.71 L504.60,113.67 L505.10,113.63 L505.60,113.60 L506.10,113.57 L506.60,113.54 L507.10,113.52 L507.60,113.49 L508.10,113.47 L508.60,113.45 L509.10,113.44 L509.60,113.42 L510.10,113.41 L510.60,113.40 L511.10,113.39 L511.60,113.38 L512.10,113.37 L512.60,113.36 L513.10,113.36 L513.60,113.35 L514.10,113.35 L514.60,113.34 L515.10,113.34 L515.60,113.33 L516.10,113.33 L516.60,113.33 L517.10,113.32 L517.60,113.32 L518.10,113.32 L518.60,113.32 L519.10,113.32 L519.60,113.31 L520.10,113.31" stroke="#eba533" stroke-width="2.2" fill="none" stroke-linejoin="round"/>
<path d="M314.60,224.50 L315.10,224.50 L315.60,224.26 L316.10,222.66 L316.60,221.07 L317.10,219.50 L317.60,217.95 L318.10,216.41 L318.60,214.88 L319.10,213.37 L319.60,211.87 L320.10,210.39 L320.60,208.92 L321.10,207.47 L321.60,206.03 L322.10,204.61 L322.60,203.21 L323.10,201.82 L323.60,200.44 L324.10,199.08 L324.60,197.73 L325.10,196.40 L325.60,195.08 L326.10,193.78 L326.60,192.49 L327.10,191.22 L327.60,189.97 L328.10,188.73 L328.60,187.50 L329.10,186.29 L329.60,185.09 L330.10,183.91 L330.60,182.74 L331.10,181.59 L331.60,180.45 L332.10,179.33 L332.60,178.23 L333.10,177.14 L333.60,176.06 L334.10,175.00 L334.60,173.95 L335.10,172.92 L335.60,171.90 L336.10,170.90 L336.60,169.92 L337.10,168.94 L337.60,167.99 L338.10,167.05 L338.60,166.12 L339.10,165.21 L339.60,164.31 L340.10,163.43 L340.60,162.57 L341.10,161.72 L341.60,160.89 L342.10,160.07 L342.60,159.27 L343.10,158.49 L343.60,157.72 L344.10,156.97 L344.60,156.24 L345.10,155.54 L345.60,154.85 L346.10,154.19 L346.60,153.55 L347.10,152.94 L347.60,152.35 L348.10,151.80 L348.60,151.28 L349.10,150.80 L349.60,150.35 L350.10,149.95 L350.60,149.57 L351.10,149.24 L351.60,148.93 L352.10,148.66 L352.60,148.41 L353.10,148.20 L353.60,148.01 L354.10,147.84 L354.60,147.70 L355.10,147.58 L355.60,147.48 L356.10,147.39 L356.60,147.32 L357.10,147.26 L357.60,147.21 L358.10,147.17 L358.60,147.14 L359.10,147.12 L359.60,147.09 L360.10,147.08 L360.60,147.06 L361.10,147.05 L361.60,147.04 L362.10,147.03 L362.60,147.03 L363.10,147.02 L363.60,147.02 L364.10,147.01 L364.60,147.01 L365.10,147.01 L365.60,147.01 L366.10,147.01 L366.60,147.00 L367.10,147.00 L367.60,147.00 L368.10,147.00 L368.60,147.00 L369.10,147.00 L369.60,147.00 L370.10,147.00 L370.60,147.00 L371.10,147.00 L371.60,147.00 L372.10,147.00 L372.60,147.00 L373.10,147.00 L373.60,147.00 L374.10,147.00 L374.60,147.00 L375.10,147.00 L375.60,147.00 L376.10,147.00 L376.60,147.00 L377.10,147.00 L377.60,147.00 L378.10,147.00 L378.60,147.00 L379.10,147.00 L379.60,147.00 L380.10,147.00 L380.60,147.00 L381.10,147.00 L381.60,147.00 L382.10,147.00 L382.60,147.00 L383.10,147.00 L383.60,147.00 L384.10,147.00 L384.60,147.00 L385.10,147.00 L385.60,147.00 L386.10,147.00 L386.60,147.00 L387.10,147.00 L387.60,147.00 L388.10,147.00 L388.60,147.00 L389.10,147.00 L389.60,147.00 L390.10,147.00 L390.60,147.00 L391.10,147.00 L391.60,147.00 L392.10,147.00 L392.60,147.00 L393.10,147.00 L393.60,147.00 L394.10,147.00 L394.60,147.00 L395.10,147.00 L395.60,147.00 L396.10,147.00 L396.60,147.00 L397.10,147.00 L397.60,147.00 L398.10,147.00 L398.60,147.00 L399.10,147.00 L399.60,147.00 L400.10,147.00 L400.60,147.00 L401.10,147.00 L401.60,147.00 L402.10,147.00 L402.60,147.00 L403.10,147.00 L403.60,147.00 L404.10,147.00 L404.60,147.00 L405.10,147.00 L405.60,147.00 L406.10,147.00 L406.60,147.00 L407.10,147.00 L407.60,147.00 L408.10,147.00 L408.60,147.00 L409.10,147.00 L409.60,147.00 L410.10,147.00 L410.60,147.00 L411.10,147.00 L411.60,147.00 L412.10,147.00 L412.60,147.00 L413.10,147.00 L413.60,147.00 L414.10,147.00 L414.60,147.00 L415.10,147.00 L415.60,147.00 L416.10,147.00 L416.60,147.00 L417.10,147.00 L417.60,147.00 L418.10,147.00 L418.60,147.00 L419.10,147.00 L419.60,147.00 L420.10,147.00 L420.60,147.00 L421.10,147.00 L421.60,147.00 L422.10,147.00 L422.60,147.00 L423.10,147.00 L423.60,147.00 L424.10,147.00 L424.60,147.00 L425.10,147.00 L425.60,147.00 L426.10,147.00 L426.60,147.00 L427.10,147.00 L427.60,147.00 L428.10,147.00 L428.60,147.00 L429.10,147.00 L429.60,147.00 L430.10,147.00 L430.60,147.00 L431.10,147.00 L431.60,147.00 L432.10,147.00 L432.60,147.00 L433.10,147.00 L433.60,147.00 L434.10,147.00 L434.60,147.00 L435.10,147.00 L435.60,147.00 L436.10,147.00 L436.60,147.00 L437.10,147.00 L437.60,147.00 L438.10,147.00 L438.60,147.00 L439.10,147.00 L439.60,147.00 L440.10,146.99 L440.60,146.99 L441.10,146.99 L441.60,146.99 L442.10,146.99 L442.60,146.99 L443.10,146.99 L443.60,146.99 L444.10,146.98 L444.60,146.98 L445.10,146.98 L445.60,146.98 L446.10,146.98 L446.60,146.97 L447.10,146.97 L447.60,146.96 L448.10,146.96 L448.60,146.95 L449.10,146.95 L449.60,146.94 L450.10,146.93 L450.60,146.92 L451.10,146.91 L451.60,146.90 L452.10,146.89 L452.60,146.87 L453.10,146.86 L453.60,146.84 L454.10,146.82 L454.60,146.79 L455.10,146.77 L455.60,146.74 L456.10,146.70 L456.60,146.67 L457.10,146.62 L457.60,146.58 L458.10,146.52 L458.60,146.46 L459.10,146.40 L459.60,146.32 L460.10,146.24 L460.60,146.15 L461.10,146.05 L461.60,145.93 L462.10,145.81 L462.60,145.67 L463.10,145.53 L463.60,145.36 L464.10,145.19 L464.60,145.00 L465.10,144.79 L465.60,144.57 L466.10,144.33 L466.60,144.08 L467.10,143.81 L467.60,143.52 L468.10,143.22 L468.60,142.90 L469.10,142.57 L469.60,142.23 L470.10,141.87 L470.60,141.50 L471.10,141.12 L471.60,140.72 L472.10,140.32 L472.60,139.90 L473.10,139.48 L473.60,139.05 L474.10,138.62 L474.60,138.18 L475.10,137.73 L475.60,137.28 L476.10,136.83 L476.60,136.37 L477.10,135.91 L477.60,135.45 L478.10,134.99 L478.60,134.54 L479.10,134.08 L479.60,133.62 L480.10,133.17 L480.60,132.72 L481.10,132.27 L481.60,131.83 L482.10,131.39 L482.60,130.95 L483.10,130.53 L483.60,130.11 L484.10,129.69 L484.60,129.29 L485.10,128.89 L485.60,128.50 L486.10,128.12 L486.60,127.76 L487.10,127.40 L487.60,127.05 L488.10,126.72 L488.60,126.39 L489.10,126.08 L489.60,125.79 L490.10,125.50 L490.60,125.23 L491.10,124.97 L491.60,124.72 L492.10,124.49 L492.60,124.27 L493.10,124.06 L493.60,123.86 L494.10,123.68 L494.60,123.51 L495.10,123.34 L495.60,123.19 L496.10,123.06 L496.60,122.93 L497.10,122.81 L497.60,122.69 L498.10,122.59 L498.60,122.50 L499.10,122.41 L499.60,122.33 L500.10,122.26 L500.60,122.19 L501.10,122.13 L501.60,122.07 L502.10,122.02 L502.60,121.97 L503.10,121.93 L503.60,121.89 L504.10,121.85 L504.60,121.82 L505.10,121.79 L505.60,121.76 L506.10,121.74 L506.60,121.72 L507.10,121.70 L507.60,121.68 L508.10,121.66 L508.60,121.65 L509.10,121.63 L509.60,121.62 L510.10,121.61 L510.60,121.60 L511.10,121.59 L511.60,121.58 L512.10,121.57 L512.60,121.57 L513.10,121.56 L513.60,121.55 L514.10,121.55 L514.60,121.54 L515.10,121.54 L515.60,121.54 L516.10,121.53 L516.60,121.53 L517.10,121.53 L517.60,121.52 L518.10,121.52 L518.60,121.52 L519.10,121.52 L519.60,121.52 L520.10,121.51" stroke="#e25b1f" stroke-width="2.2" fill="none" stroke-linejoin="round"/>

<g stroke="#222" stroke-width="1.2" fill="none">
<rect x="314.6" y="39.7" width="204.8" height="183.6"/>
<line x1="314.6" y1="206.5" x2="318.2" y2="206.5"/><line x1="519.4" y1="206.5" x2="515.8" y2="206.5"/>
<line x1="314.6" y1="182.7" x2="318.2" y2="182.7"/><line x1="519.4" y1="182.7" x2="515.8" y2="182.7"/>
<line x1="314.6" y1="158.9" x2="318.2" y2="158.9"/><line x1="519.4" y1="158.9" x2="515.8" y2="158.9"/>
<line x1="314.6" y1="135.0" x2="318.2" y2="135.0"/><line x1="519.4" y1="135.0" x2="515.8" y2="135.0"/>
<line x1="314.6" y1="111.2" x2="318.2" y2="111.2"/><line x1="519.4" y1="111.2" x2="515.8" y2="111.2"/>
<line x1="314.6" y1="87.4" x2="318.2" y2="87.4"/><line x1="519.4" y1="87.4" x2="515.8" y2="87.4"/>
<line x1="314.6" y1="63.5" x2="318.2" y2="63.5"/><line x1="519.4" y1="63.5" x2="515.8" y2="63.5"/>
<line x1="342.8" y1="223.3" x2="342.8" y2="219.7"/><line x1="342.8" y1="39.7" x2="342.8" y2="43.3"/>
<line x1="371.0" y1="223.3" x2="371.0" y2="219.7"/><line x1="371.0" y1="39.7" x2="371.0" y2="43.3"/>
<line x1="399.3" y1="223.3" x2="399.3" y2="219.7"/><line x1="399.3" y1="39.7" x2="399.3" y2="43.3"/>
<line x1="427.5" y1="223.3" x2="427.5" y2="219.7"/><line x1="427.5" y1="39.7" x2="427.5" y2="43.3"/>
<line x1="455.7" y1="223.3" x2="455.7" y2="219.7"/><line x1="455.7" y1="39.7" x2="455.7" y2="43.3"/>
<line x1="483.9" y1="223.3" x2="483.9" y2="219.7"/><line x1="483.9" y1="39.7" x2="483.9" y2="43.3"/>
<line x1="512.1" y1="223.3" x2="512.1" y2="219.7"/><line x1="512.1" y1="39.7" x2="512.1" y2="43.3"/>

</g>
<g font-size="14">
<text x="320.4" y="57.6">R1</text>
<text x="382.8" y="57.2" style="fill:#cc2236;stroke:#cc2236">R2</text>
<text x="463.2" y="56.6">R3</text>
<text x="499.6" y="56.6" style="fill:#2a2ab8;stroke:#2a2ab8">R4</text>
</g>
<g font-size="15.5">
<text x="306.6" y="71.8" text-anchor="end">10<tspan font-size="9" dy="-10">2</tspan></text>
<text x="306.6" y="119.5" text-anchor="end">10<tspan font-size="9" dy="-10">0</tspan></text>
<text x="306.6" y="167.2" text-anchor="end">10<tspan font-size="9" dy="-10">-2</tspan></text>
<text x="306.6" y="214.8" text-anchor="end">10<tspan font-size="9" dy="-10">-4</tspan></text>

<text x="314.3" y="239.8" text-anchor="middle">0.0</text>
<text x="370.7" y="239.8" text-anchor="middle">0.4</text>
<text x="427.1" y="239.8" text-anchor="middle">0.8</text>
<text x="483.6" y="239.8" text-anchor="middle">1.2</text>
</g>
<text x="393" y="265" font-size="15.5">V<tspan font-size="10.5" dy="3.6">sd</tspan><tspan dy="-3.6"> (V)</tspan></text>
<text transform="translate(264.6,159.4) rotate(-90)" font-size="17"><tspan font-style="italic">I</tspan><tspan font-size="11" dy="3.6">sd</tspan><tspan dy="-3.6"> (nA)</tspan></text>
</svg>
</body></html>
